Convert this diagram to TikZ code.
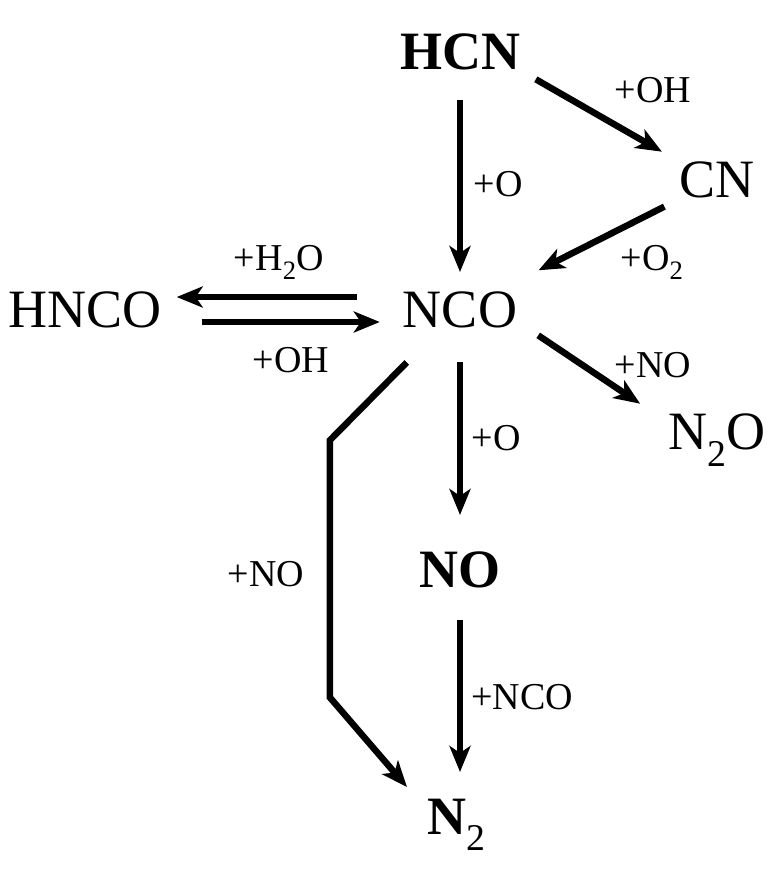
\documentclass[tikz,border=0pt]{standalone}
\usepackage{fontspec}
\setmainfont{Liberation Serif}
\usetikzlibrary{positioning,calc,arrows.meta}

\begin{document}
\begin{tikzpicture}[x=1pt, y=-1pt,
					species/.style={inner sep=0pt, font=\fontsize{54}{60}\selectfont},
					plus/.style={inner sep=0pt, font=\fontsize{38}{44}\selectfont},
					react/.style={line width=6.5pt, -{Stealth[length=26pt,width=21pt,inset=7pt]}}
					]
					\useasboundingbox (0,0) rectangle (783,870);
					
					% species
					\node[species] (hcn) at (460,52) {\textbf{HCN}};
					\node[species] (cn) at (717,180) {CN};
					\node[species] (nco) at (460,310) {NCO};
					\node[species] (hnco) at (85,310) {HNCO};
					\node[species] (ntwoo) at (717,440) {N\textsubscript{2}O};
					\node[species] (no) at (460,570) {\textbf{NO}};
					\node[species] (ntwo) at (457,825) {\textbf{N}\textsubscript{2}};
					
					% reactions
					\draw[react, shorten <=48pt, shorten >=38pt] (hcn.center) -- (nco.center);
					\draw[react, shorten <=18pt, shorten >=20pt] (hcn.south east) -- (cn.north west);
					\draw[react, shorten <=59pt, shorten >=88pt] (cn.center) -- (nco.center);
					\draw[react, shorten <=46pt, shorten >=15pt] ([yshift=13pt]nco.west) -- ([yshift=13pt]hnco.east);
					\draw[react, shorten <=40pt, shorten >=23pt] ([yshift=-12pt]hnco.east) -- ([yshift=-12pt]nco.west);
					\draw[react] ([shift={(21,7)}]nco.south east) -- ([shift={(-28,-10)}]ntwoo.north west);
					\draw[react, shorten <=52pt, shorten >=55pt] (nco.center) -- (no.center);
					\draw[react, shorten <=50pt, shorten >=53pt] (no.center) -- (no |- ntwo.center);
					\draw[react, line join=miter] ([shift={(4,34)}]nco.south west) -- ++(-77,78) -- ++(0,257) -- ([shift={(-50,-38)}]ntwo.center);
					
					% labels
					\node[plus] at (498,184) {+O};
					\node[plus] at (653,90) {+OH};
					\node[plus] at (652,262) {+O\textsubscript{2}};
					\node[plus] at (279,262) {+H\textsubscript{2}O};
					\node[plus] at (291,360) {+OH};
					\node[plus] at (653,365) {+NO};
					\node[plus] at (496,438) {+O};
					\node[plus] at (266,574) {+NO};
					\node[plus] at (522,697) {+NCO};
				\end{tikzpicture}
\end{document}
